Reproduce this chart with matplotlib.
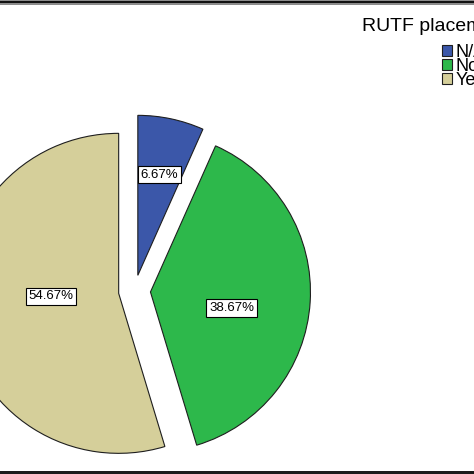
import numpy as np
import matplotlib
matplotlib.use("Agg")
import matplotlib.pyplot as plt
from matplotlib.patches import Rectangle

# ---- data ----
categories = ["N/A", "No", "Yes"]
percentages = [6.67, 38.67, 54.67]
legend_title = "RUTF placement"

# ---- style ----
colors = ["#3b57a9", "#2db84b", "#d5cf9a"]
explode = [0.1, 0.1, 0.1]
label_r = [0.644, 0.516, 0.425]
label_tweak = [0.0, -7.6, -5.9]

W = H = 474
fig = plt.figure(figsize=(W / 100, H / 100), dpi=100)
ax = fig.add_axes([0, 0, 1, 1])

wedges, _ = ax.pie(percentages, colors=colors, startangle=90, counterclock=False,
                   explode=explode, radius=1,
                   wedgeprops=dict(edgecolor="#1e1e1e", linewidth=0.8))

# pixel geometry: centre (134.5, 291) px, radius 160 px
cxp, cyp, rp = 134.5, 291.0, 160.0
ax.set_xlim(-cxp / rp, (W - cxp) / rp)
ax.set_ylim((cyp - H) / rp, cyp / rp)
ax.set_aspect("auto")
ax.axis("off")

for w, p, r, tw in zip(wedges, percentages, label_r, label_tweak):
    mid = np.deg2rad((w.theta1 + w.theta2) / 2 + tw)
    cx, cy = w.center
    ax.text(cx + r * np.cos(mid), cy + r * np.sin(mid), f"{p:.2f}%",
            ha="center", va="center", fontsize=9.5, family="Liberation Sans",
            bbox=dict(boxstyle="square,pad=0.2", fc="white", ec="black", lw=0.8))

# legend title and entries
fig.text(362 / W, 1 - 31 / H, legend_title, fontsize=14, family="Liberation Sans",
         va="baseline", ha="left")
fig.legend(wedges, categories, loc="upper left", bbox_to_anchor=(442 / W, 1 - 44 / H),
           frameon=False, prop=dict(family="Liberation Sans", size=13),
           handlelength=0.55, handleheight=0.55, handletextpad=0.2,
           labelspacing=-0.17, borderpad=0, borderaxespad=0)

# frame bands (top and bottom)
fig.patches.append(Rectangle((0, 1 - 4.5 / H), 1, 4.5 / H, transform=fig.transFigure,
                             fc="#8c8c8c", ec="none", zorder=10))
fig.patches.append(Rectangle((0, 1 - 3.3 / H), 1, 2.0 / H, transform=fig.transFigure,
                             fc="#111111", ec="none", zorder=11))
fig.patches.append(Rectangle((0, 0), 1, 3 / H, transform=fig.transFigure,
                             fc="#1c1c1c", ec="none", zorder=10))

fig.savefig("out.png", dpi=100)
